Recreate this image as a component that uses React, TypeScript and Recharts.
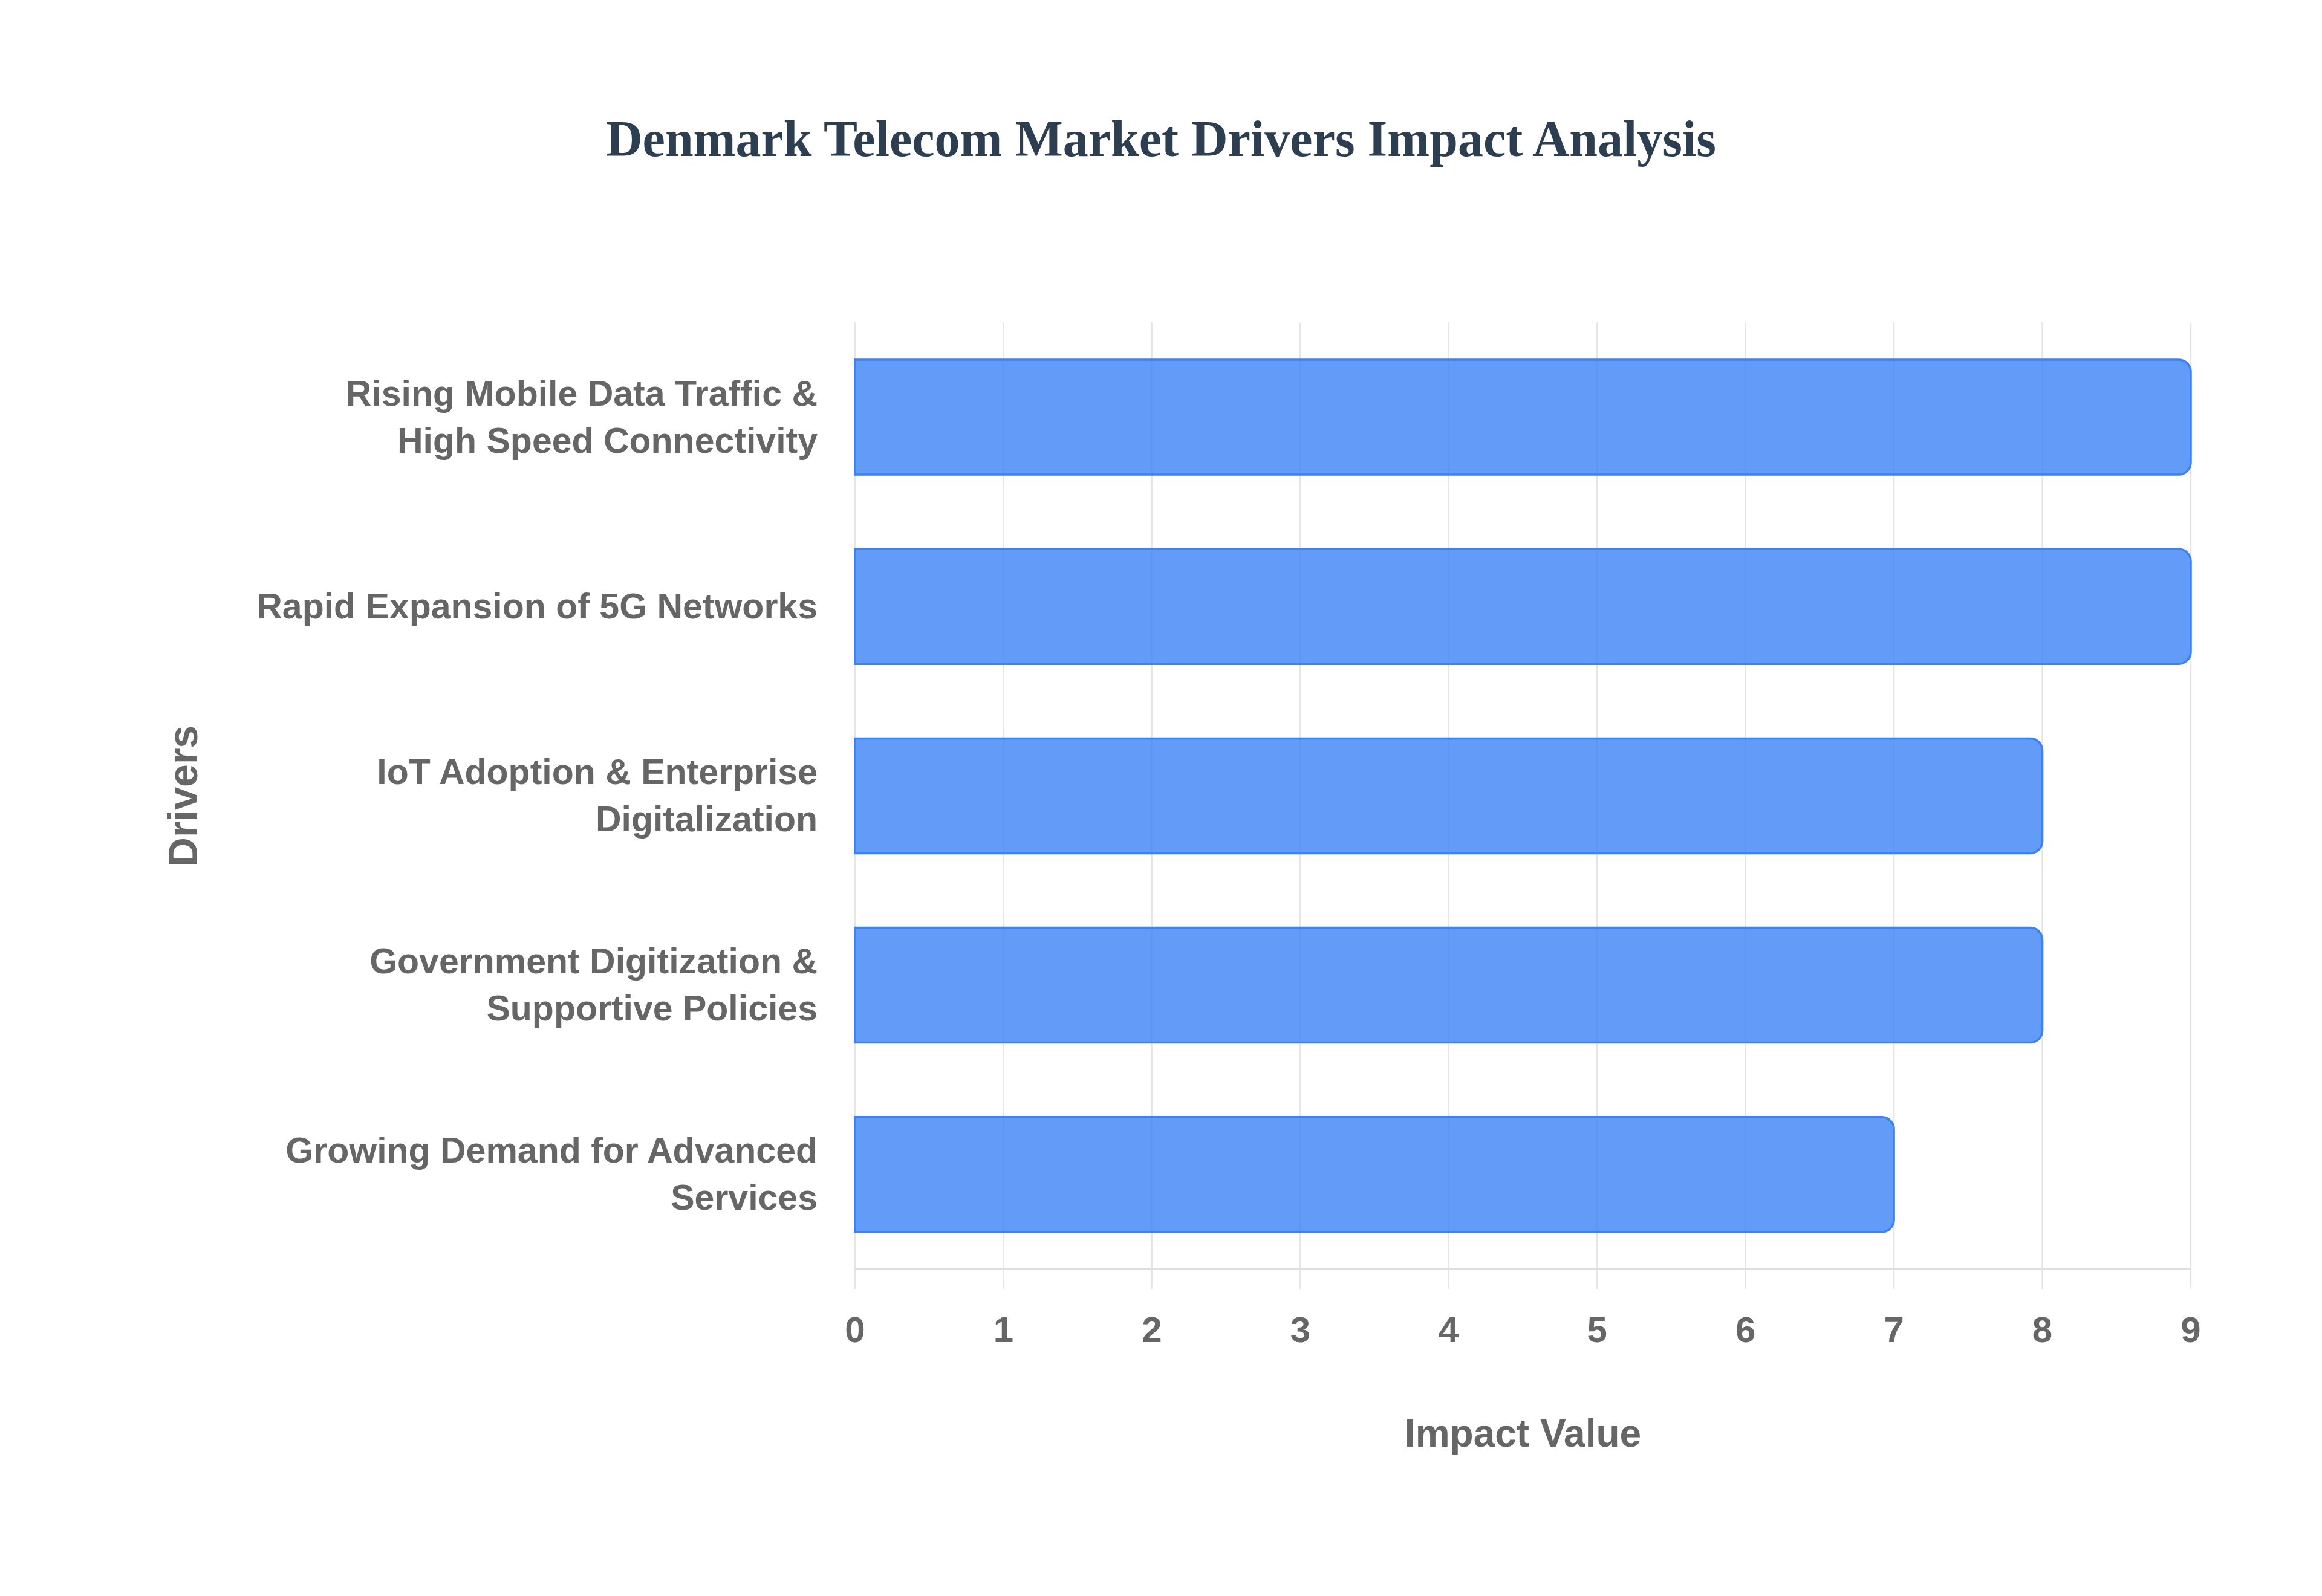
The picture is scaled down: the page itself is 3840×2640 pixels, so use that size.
import { BarChart, Bar, XAxis, YAxis, CartesianGrid } from 'recharts'

const drivers = [
  'Rising Mobile Data Traffic & High Speed Connectivity',
  'Rapid Expansion of 5G Networks',
  'IoT Adoption & Enterprise Digitalization',
  'Government Digitization & Supportive Policies',
  'Growing Demand for Advanced Services',
]

// how each driver name wraps on the y axis
const driverLabelLines = [
  ['Rising Mobile Data Traffic &', 'High Speed Connectivity'],
  ['Rapid Expansion of 5G Networks'],
  ['IoT Adoption & Enterprise', 'Digitalization'],
  ['Government Digitization &', 'Supportive Policies'],
  ['Growing Demand for Advanced', 'Services'],
]

const impactValues = [9, 9, 8, 8, 7]
const impactTicks = [0, 1, 2, 3, 4, 5, 6, 7, 8, 9]

const TITLE = 'Denmark Telecom Market Drivers Impact Analysis'
const X_TITLE = 'Impact Value'
const Y_TITLE = 'Drivers'

const SANS = '"Liberation Sans", Arial, Helvetica, sans-serif'
const GRID = '#e5e5e5'
const LABEL = '#666666'

const W = 3840
const H = 2640
const X_AXIS_H = 300

const chartData = drivers.map((driver, i) => ({
  driver,
  value: impactValues[i],
}))

function DriverTick(props: any) {
  const { x, y, index } = props
  const lines = driverLabelLines[index] || [props.payload.value]
  const step = 78
  const start = -((lines.length - 1) * step) / 2
  return (
    <text
      x={x}
      y={y}
      textAnchor="end"
      fill={LABEL}
      fontFamily={SANS}
      fontWeight="bold"
      fontSize={59}
    >
      {lines.map((line: string, i: number) => (
        <tspan key={i} x={x} y={y + start + i * step} dominantBaseline="central">
          {line}
        </tspan>
      ))}
    </text>
  )
}

function ValueTick(props: any) {
  const { x, y, payload } = props
  return (
    <text
      x={x}
      y={y + 67}
      textAnchor="middle"
      dominantBaseline="central"
      fill={LABEL}
      fontFamily={SANS}
      fontWeight="bold"
      fontSize={60}
    >
      {payload.value}
    </text>
  )
}

export default function App() {
  return (
    <div
      style={{
        position: 'absolute',
        left: 0,
        top: 0,
        width: W,
        height: H,
        background: '#ffffff',
      }}
    >
      <div
        style={{
          position: 'absolute',
          left: 0,
          top: 188,
          width: W,
          textAlign: 'center',
          fontFamily: '"Liberation Serif", "Times New Roman", serif',
          fontWeight: 'bold',
          fontSize: 84,
          lineHeight: '84px',
          color: '#2c3e50',
        }}
      >
        {TITLE}
      </div>

      <BarChart
        width={W}
        height={H}
        data={chartData}
        layout="vertical"
        margin={{ top: 533, right: 217, bottom: H - 2099 - X_AXIS_H, left: 0 }}
      >
        <CartesianGrid horizontal={false} stroke={GRID} strokeWidth={2.5} />
        <XAxis
          type="number"
          domain={[0, 9]}
          ticks={impactTicks}
          interval={0}
          height={X_AXIS_H}
          tickSize={33}
          tickMargin={0}
          tickLine={{ stroke: GRID, strokeWidth: 2.5 }}
          axisLine={{ stroke: '#dedede', strokeWidth: 3 }}
          tick={<ValueTick />}
        />
        <YAxis
          type="category"
          dataKey="driver"
          width={1414}
          tickSize={0}
          tickMargin={62}
          axisLine={false}
          tickLine={false}
          interval={0}
          tick={<DriverTick />}
        />
        <Bar
          dataKey="value"
          fill="rgba(59, 130, 246, 0.8)"
          stroke="#3b82f6"
          strokeWidth={3.5}
          radius={[0, 20, 20, 0]}
          barSize={190}
          isAnimationActive={false}
        />
      </BarChart>

      <div
        style={{
          position: 'absolute',
          left: 1414,
          width: 3623 - 1414,
          top: 2371 - 40,
          height: 80,
          lineHeight: '80px',
          textAlign: 'center',
          fontFamily: SANS,
          fontWeight: 'bold',
          fontSize: 64,
          color: LABEL,
        }}
      >
        {X_TITLE}
      </div>
      <div
        style={{
          position: 'absolute',
          left: 302,
          top: 1317,
          transform: 'translate(-50%, -50%) rotate(-90deg)',
          whiteSpace: 'nowrap',
          fontFamily: SANS,
          fontWeight: 'bold',
          fontSize: 68,
          lineHeight: '80px',
          color: LABEL,
        }}
      >
        {Y_TITLE}
      </div>
    </div>
  )
}
